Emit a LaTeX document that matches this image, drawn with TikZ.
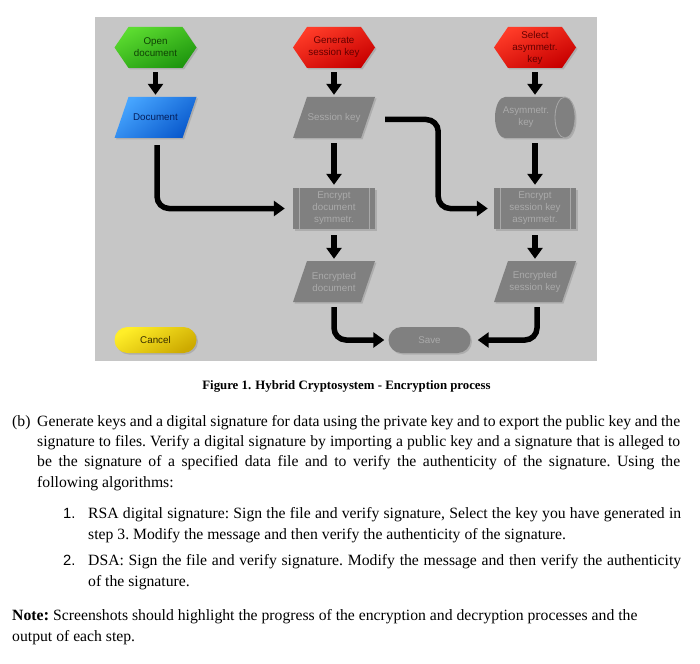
\documentclass[tikz,border=0pt]{standalone}
\usepackage{fontspec}
\setmainfont{Liberation Serif}
\newfontfamily\dsans{Liberation Sans}
\usetikzlibrary{arrows.meta,shadows,calc}
\definecolor{panel}{RGB}{198,198,198}
\definecolor{gfill}{RGB}{128,128,128}
\definecolor{gtext}{RGB}{170,170,170}
\definecolor{gline}{RGB}{168,168,168}
\definecolor{greenA}{RGB}{92,220,48}
\definecolor{greenB}{RGB}{30,150,14}
\definecolor{greenT}{RGB}{15,65,5}
\definecolor{redA}{RGB}{255,60,40}
\definecolor{redB}{RGB}{200,0,0}
\definecolor{redT}{RGB}{100,0,0}
\definecolor{blueA}{RGB}{70,165,255}
\definecolor{blueB}{RGB}{10,90,205}
\definecolor{blueT}{RGB}{5,30,90}
\definecolor{yelA}{RGB}{255,238,40}
\definecolor{yelB}{RGB}{205,170,0}
\definecolor{yelT}{RGB}{55,45,0}
\newcommand{\hexat}[3]{\path[#3] (#1-41,#2) -- (#1-27,#2-20.5) -- (#1+27,#2-20.5) -- (#1+41,#2) -- (#1+27,#2+20.5) -- (#1-27,#2+20.5) -- cycle;}
\newcommand{\parat}[3]{\path[#3] (#1-41,#2+20.5) -- (#1-27,#2-20.5) -- (#1+41,#2-20.5) -- (#1+27,#2+20.5) -- cycle;}
\newcommand{\pillat}[3]{\path[#3,rounded corners=13pt] (#1-41,#2-13) rectangle (#1+41,#2+13);}
\newcommand{\procat}[3]{\path[#3] (#1-41,#2-20.5) rectangle (#1+41,#2+20.5);
  \draw[gline,line width=0.8pt] (#1-35,#2-20.5) -- (#1-35,#2+20.5) (#1+35,#2-20.5) -- (#1+35,#2+20.5);}
\newcommand{\cylat}[3]{\path[#3] (#1+30,#2-20.5) -- (#1-30,#2-20.5) arc[start angle=90,end angle=270,x radius=10pt,y radius=20.5pt] -- (#1+30,#2+20.5) arc[start angle=270,end angle=450,x radius=10pt,y radius=20.5pt] -- cycle;
  \draw[gline,line width=0.8pt,fill=gfill] (#1+30,#2) ellipse[x radius=10pt,y radius=20.5pt];}
\newcommand{\jl}[2]{\makebox[#1][s]{#2}}
\begin{document}
\begin{tikzpicture}[x=1pt,y=-1pt,
  conn/.style={line width=5.5pt,-{Triangle[width=15pt,length=11pt]}},
  bent/.style={conn,rounded corners=12pt},
  lbl/.style={inner sep=0pt,minimum width=82pt,minimum height=41pt,align=center,font=\dsans\fontsize{9.8}{12}\selectfont},
  shd/.style={drop shadow={shadow xshift=1.5pt,shadow yshift=-1.5pt,opacity=0.35}},
  greensh/.style={shd,top color=greenA,bottom color=greenB,shading angle=25},
  redsh/.style={shd,top color=redA,bottom color=redB,shading angle=25},
  bluesh/.style={shd,top color=blueA,bottom color=blueB,shading angle=40},
  yelsh/.style={shd,top color=yelA,bottom color=yelB,shading angle=30},
  graysh/.style={shd,fill=gfill},
  body/.style={inner sep=0pt,anchor=base west,font=\frenchspacing\fontsize{15.7}{21}\selectfont},
  num/.style={inner sep=0pt,anchor=base west,font=\dsans\fontsize{14.8}{21}\selectfont}
]
\useasboundingbox (0,0) rectangle (700,663);
\fill[white] (0,0) rectangle (700,663);
\fill[panel] (95,17) rectangle (597,361);
% shapes
\hexat{155.5}{47.5}{greensh}
\hexat{334}{47.5}{redsh}
\hexat{535}{47.5}{redsh}
\parat{155.5}{117.5}{bluesh}
\parat{334}{117.5}{graysh}
\cylat{535}{117.5}{graysh}
\procat{334}{208.5}{graysh}
\procat{535}{208.5}{graysh}
\parat{334}{281.5}{graysh}
\parat{535}{281.5}{graysh}
\pillat{155.5}{340}{yelsh}
\pillat{429.5}{340}{graysh}
% labels
\node[lbl,text=greenT] (od) at (155.5,47.5) {Open\\document};
\node[lbl,text=redT] (gsk) at (334,47.5) {Generate\\session key};
\node[lbl,text=redT] (sak) at (535,47.5) {Select\\asymmetr.\\key};
\node[lbl,text=blueT] (doc) at (155.5,117.5) {Document};
\node[lbl,text=gtext] (sk) at (334,117.5) {Session key};
\node[lbl,text=gtext] (ak) at (526,117.5) {Asymmetr.\\key};
\node[lbl,text=gtext] (esd) at (334,208.5) {Encrypt\\document\\symmetr.};
\node[lbl,text=gtext] (esk) at (535,208.5) {Encrypt\\session key\\asymmetr.};
\node[lbl,text=gtext] (ed) at (334,281.5) {Encrypted\\document};
\node[lbl,text=gtext] (esk2) at (535,281.5) {Encrypted\\session key};
\node[lbl,minimum height=26pt,text=yelT] (cancel) at (155.5,340) {Cancel};
\node[lbl,minimum height=26pt,text=gtext] (save) at (429.5,340) {Save};
% connectors
\draw[conn,shorten <=4pt,shorten >=2pt] (od.south) -- (doc.north);
\draw[conn,shorten <=4pt,shorten >=2pt] (gsk.south) -- (sk.north);
\draw[conn,shorten <=4pt,shorten >=2pt] (sak.south) -- (sak.south |- ak.north);
\draw[conn,shorten <=5pt,shorten >=3pt] (sk.south) -- (esd.north);
\draw[conn,shorten <=5pt,shorten >=3pt] (ak.south -| esk.north) -- (esk.north);
\draw[conn,shorten <=6pt,shorten >=2pt] (esd.south) -- (ed.north);
\draw[conn,shorten <=6pt,shorten >=2pt] (esk.south) -- (esk2.north);
\draw[bent,shorten <=7pt,shorten >=8pt] ([xshift=1.5pt]doc.south) |- (esd.west);
\draw[bent,shorten >=6pt] ([shift={(10,2)}]sk.east) -- ++(53,0) |- (esk.west);
\draw[bent,shorten <=5pt,shorten >=4pt] (ed.south) |- (save.west);
\draw[bent,shorten <=5pt,shorten >=7pt] ([xshift=2pt]esk2.south) |- (save.east);
% caption
\node[anchor=base,inner sep=0pt,font=\bfseries\fontsize{12.8}{15}\selectfont] (cap) at (346.5,389) {Figure 1. Hybrid Cryptosystem - Encryption process};
% paragraph (b)
\node[body] (bl) at (12,426) {(b)};
\node[body] (b1) at (37,426) {\jl{643pt}{Generate keys and a digital signature for data using the private key and to export the public key and the}};
\node[body] (b2) at (37,446) {\jl{643pt}{signature to files. Verify a digital signature by importing a public key and a signature that is alleged to}};
\node[body] (b3) at (37,466.5) {\jl{643pt}{be the signature of a specified data file and to verify the authenticity of the signature. Using the}};
\node[body] (b4) at (37,487) {following algorithms:};
% items
\node[num] (n1) at (63,518) {1.};
\node[body] (i11) at (88,518) {\jl{593pt}{RSA digital signature: Sign the file and verify signature, Select the key you have generated in}};
\node[body] (i12) at (88,539) {step 3. Modify the message and then verify the authenticity of the signature.};
\node[num] (n2) at (63,565) {2.};
\node[body] (i21) at (88,565) {\jl{593pt}{DSA: Sign the file and verify signature. Modify the message and then verify the authenticity}};
\node[body] (i22) at (88,586) {of the signature.};
% note
\node[body] (nt1) at (12,620) {\textbf{Note{\fontsize{17}{21}\selectfont:}} Screenshots should highlight the progress of the encryption and decryption processes and the};
\node[body] (nt2) at (12,641) {output of each step.};
\end{tikzpicture}
\end{document}
